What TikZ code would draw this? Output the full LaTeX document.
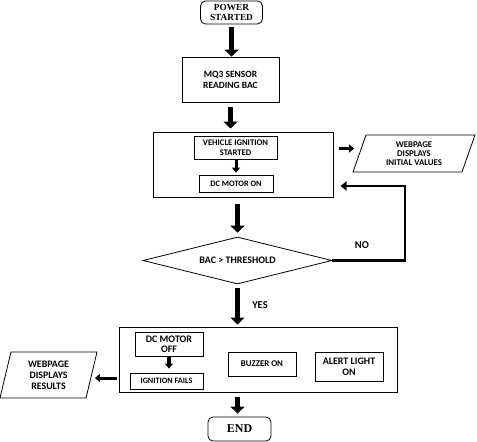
\documentclass[tikz,border=0pt]{standalone}
\usepackage{fontspec}
\setmainfont{Carlito}
\newfontfamily\serifbold{Liberation Serif}
\usetikzlibrary{arrows.meta,shapes.geometric}
\newcommand\boxfont[2]{\fontsize{#1}{#2}\selectfont\bfseries}

\begin{document}
\begin{tikzpicture}[x=1pt,y=-1pt,
    box/.style={draw,line width=0.8pt,align=center,inner sep=0pt,font=\boxfont{9}{10.5}},
    group_box/.style={draw,line width=1pt,inner sep=0pt},
    term_box/.style={box,rounded corners=5pt,font=\serifbold\boxfont{9.3}{9.5}},
    io_box/.style={box,trapezium,trapezium stretches body,trapezium left angle=#1,trapezium right angle=180-#1},
    choice/.style={box,diamond,aspect=4},
    flow/.style={line width=5pt,-{Triangle[width=14pt,length=7pt]}},
    small_flow/.style={line width=3pt,-{Triangle[width=8pt,length=5pt]}},
    back_flow/.style={line width=2.6pt,-{Triangle[width=9pt,length=6pt]}},
    label/.style={font=\boxfont{10.5}{12}}]

    \useasboundingbox (0,0) rectangle (477,442);

    \node[term_box,minimum width=62pt,minimum height=23pt] (power) at (231.5,12.5) {POWER\\STARTED};
    \node[box,minimum width=97pt,minimum height=45pt,font=\boxfont{9.5}{11}] (mq3) at (230.5,79.5) {MQ3 SENSOR\\READING BAC};

    \node[group_box,minimum width=180pt,minimum height=65pt] (start) at (243,164.5) {};
    \node[box,minimum width=83pt,minimum height=23pt,font=\boxfont{8.6}{9.5}] (ign) at (235.5,147.5) {VEHICLE IGNITION\\STARTED};
    \node[box,minimum width=74pt,minimum height=17pt,font=\boxfont{8.3}{9}] (motor_on) at (236,183.5) {DC MOTOR ON};
    \node[io_box=62,minimum width=122pt,minimum height=37pt,font=\boxfont{8.8}{9.3}] (web_init) at (414,153.5) {WEBPAGE\\DISPLAYS\\INITIAL VALUES};

    \node[choice,minimum width=189pt,minimum height=47pt,font=\boxfont{10}{11}] (bac) at (237.5,260.5) {BAC > THRESHOLD};

    \node[group_box,minimum width=278pt,minimum height=65pt] (stop) at (258,359.5) {};
    \node[box,minimum width=68pt,minimum height=24pt,font=\boxfont{10}{10}] (motor_off) at (169,344) {DC MOTOR\\OFF};
    \node[box,minimum width=73pt,minimum height=16pt,font=\boxfont{8.2}{9}] (fail) at (166.5,381) {IGNITION FAILS};
    \node[box,minimum width=68pt,minimum height=24pt,font=\boxfont{8.8}{10}] (buzzer) at (262,364) {BUZZER ON};
    \node[box,minimum width=68pt,minimum height=29pt,font=\boxfont{10}{11}] (alert) at (349,366.5) {ALERT LIGHT\\ON};
    \node[io_box=69,minimum width=97pt,minimum height=46pt,font=\boxfont{9.9}{11}] (web_res) at (48.5,375) {WEBPAGE\\DISPLAYS\\RESULTS};

    \node[term_box,minimum width=63pt,minimum height=24pt,font=\serifbold\boxfont{12}{12}] (end) at (239.5,429) {END};

    \coordinate (turn) at (405,186);
    \node[label] (no) at (362,245) {NO};
    \node[label] (yes) at (260,305) {YES};

    \draw[flow,shorten <=3pt] (power.south) -- (power.south |- mq3.north);
    \draw[flow,shorten <=5pt,shorten >=3pt] (mq3.south) -- (mq3.south |- start.north);
    \draw[small_flow,shorten >=2pt] (ign.south -| motor_on.north) -- (motor_on.north);
    \draw[small_flow,shorten <=5pt,shorten >=5pt] ([yshift=16pt]start.east) -- ([yshift=16pt]start.east -| web_init.west);
    \draw[flow,shorten <=6pt,shorten >=4pt] (bac.north |- start.south) -- (bac.north);
    \draw[back_flow,shorten >=7pt] (bac.east) -| (turn) -- ([yshift=-21.5pt]start.east);
    \draw[flow,shorten <=4pt,shorten >=2pt] (bac.south) -- (bac.south |- stop.north);
    \draw[small_flow,line width=3.5pt,shorten >=4pt] (motor_off) -- (fail.north -| motor_off.south);
    \draw[small_flow,shorten <=2pt,shorten >=3pt] ([yshift=-18.5pt]stop.west) -- ([yshift=-18.5pt]stop.west -| web_res.east);
    \draw[flow,shorten <=4pt,shorten >=3pt] (bac.south |- stop.south) -- (bac.south |- end.north);
\end{tikzpicture}
\end{document}
